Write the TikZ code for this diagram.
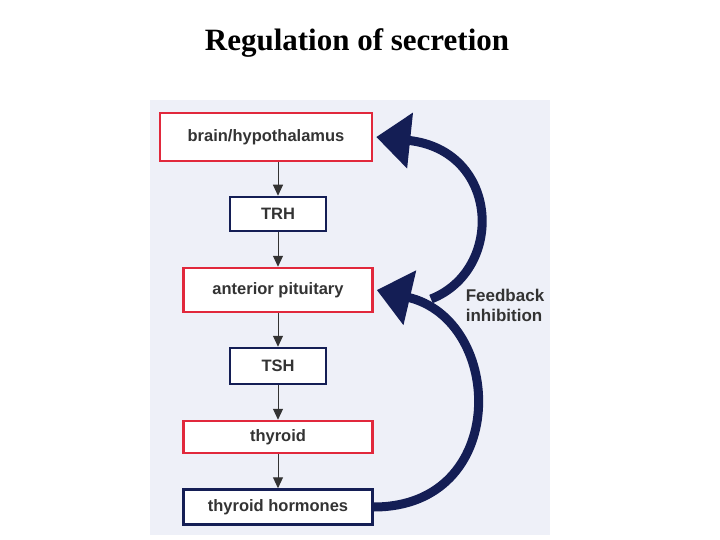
\documentclass[tikz,border=0pt]{standalone}
\usepackage{fontspec}
\setmainfont{Liberation Serif}
\newfontfamily\sansf{Liberation Sans}
\usetikzlibrary{arrows.meta}
\definecolor{navy}{RGB}{20,30,85}
\definecolor{redb}{RGB}{225,40,60}
\definecolor{bg}{RGB}{238,240,248}
\begin{document}
\begin{tikzpicture}[x=1pt,y=-1pt,
  box/.style={draw,line width=2.5pt,fill=white,minimum height=#1,inner sep=0pt,font=\sansf\bfseries\fontsize{16.5}{19}\selectfont,text=black!80},
  rbox/.style={box=#1,draw=redb,minimum width=189},
  nbox/.style={box=#1,draw=navy,minimum width=96},
  flow/.style={-{Triangle[length=11pt,width=10pt]},line width=1pt,draw=black!80},
  fb/.style={-{Triangle[length=34pt,width=54pt]},line width=9pt,draw=navy}]
\useasboundingbox (0,0) rectangle (720,540);
\fill[bg] (150,100) rectangle (550,535);
\node[font=\bfseries\fontsize{31}{36}\selectfont] (title) at (357,43) {Regulation of secretion};
\node[rbox=48,minimum width=212] (brain) at (266,137) {brain/hypothalamus};
\node[nbox=34] (trh) at (278,214) {TRH};
\node[rbox=44] (ant) at (278,290) {anterior pituitary};
\node[nbox=36] (tsh) at (278,366) {TSH};
\node[rbox=32] (thy) at (278,437) {thyroid};
\node[rbox=35,draw=navy] (hor) at (278,507) {thyroid hormones};
\draw[flow] (brain.south -| trh.north) -- (trh.north);
\draw[flow] (trh) -- (ant);
\draw[flow] (ant) -- (tsh);
\draw[flow] (tsh) -- (thy);
\draw[flow] (thy) -- (hor);
\coordinate (j) at (431,299);
\draw[fb] (hor.east) .. controls (510,507) and (505,320) .. ([xshift=3pt]ant.east);
\draw[fb] (j) .. controls (505,270) and (500,150) .. ([xshift=3pt]brain.east);
\node[font=\sansf\bfseries\fontsize{17}{20}\selectfont,text=black!80,align=left] (lab) at (505,305) {Feedback\\inhibition};
\end{tikzpicture}
\end{document}
